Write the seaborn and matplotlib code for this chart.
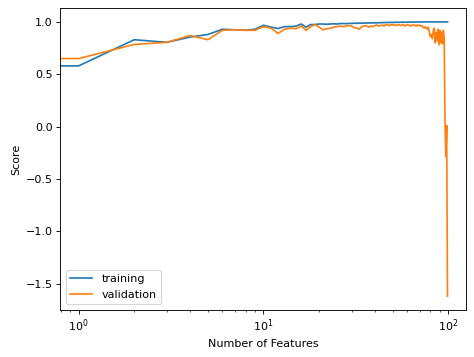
import numpy as np
import pandas as pd
import seaborn as sns
import matplotlib
matplotlib.use('Agg')
import matplotlib.pyplot as plt

# number of features kept (0 .. 99)
n_features = list(range(0, 100))

# training score per number of features
train_score = [
    0.58, 0.58, 0.83, 0.805, 0.855, 0.88, 0.93, 0.925, 0.92, 0.93,
    0.968, 0.95, 0.937, 0.955, 0.955, 0.96, 0.98, 0.95, 0.975, 0.975,
    0.98, 0.98, 0.978, 0.98, 0.982, 0.98, 0.984, 0.985, 0.983, 0.986,
    0.985, 0.988, 0.986, 0.989, 0.988, 0.99, 0.989, 0.99, 0.991, 0.99,
    0.992, 0.991, 0.993, 0.992, 0.994, 0.993, 0.995, 0.994, 0.995, 0.996,
    0.995, 0.996, 0.997, 0.996, 0.997, 0.997, 0.998, 0.997, 0.998, 0.998,
    0.998, 0.999, 0.998, 0.999, 0.999, 0.999, 0.999, 0.999, 1.0, 0.999,
    1.0, 1.0, 1.0, 1.0, 1.0, 1.0, 1.0, 1.0, 1.0, 1.0,
    1.0, 1.0, 1.0, 1.0, 1.0, 1.0, 1.0, 1.0, 1.0, 1.0,
    1.0, 1.0, 1.0, 1.0, 1.0, 1.0, 1.0, 1.0, 1.0, 1.0,
]

# validation score per number of features
valid_score = [
    0.65, 0.65, 0.785, 0.805, 0.87, 0.83, 0.92, 0.925, 0.92, 0.92,
    0.955, 0.94, 0.89, 0.93, 0.94, 0.935, 0.96, 0.92, 0.955, 0.975,
    0.95, 0.924, 0.935, 0.94, 0.95, 0.955, 0.96, 0.955, 0.96, 0.965,
    0.96, 0.945, 0.94, 0.93, 0.955, 0.96, 0.965, 0.95, 0.96, 0.955,
    0.965, 0.97, 0.96, 0.965, 0.97, 0.96, 0.975, 0.97, 0.965, 0.975,
    0.97, 0.975, 0.965, 0.97, 0.975, 0.965, 0.97, 0.975, 0.96, 0.97,
    0.975, 0.965, 0.97, 0.96, 0.97, 0.975, 0.965, 0.96, 0.97, 0.965,
    0.97, 0.96, 0.965, 0.95, 0.94, 0.955, 0.94, 0.93, 0.95, 0.9,
    0.86, 0.88, 0.84, 0.92, 0.94, 0.8, 0.9, 0.82, 0.93, 0.78,
    0.92, 0.8, 0.9, 0.79, 0.92, 0.85, 0.03, -0.29, 0.01, -1.62,
]

df = pd.DataFrame({'features': n_features, 'training': train_score, 'validation': valid_score})

fig, ax = plt.subplots(figsize=(5.925, 4.4625), dpi=80)
sns.lineplot(data=df, x='features', y='training', label='training', ax=ax)
sns.lineplot(data=df, x='features', y='validation', label='validation', ax=ax)
ax.set_xscale('log')
ax.set_xlabel('Number of Features')
ax.set_ylabel('Score')
ax.legend(loc='lower left')
plt.subplots_adjust(left=0.127, right=0.983, top=0.977, bottom=0.132)
plt.savefig('out.png')
